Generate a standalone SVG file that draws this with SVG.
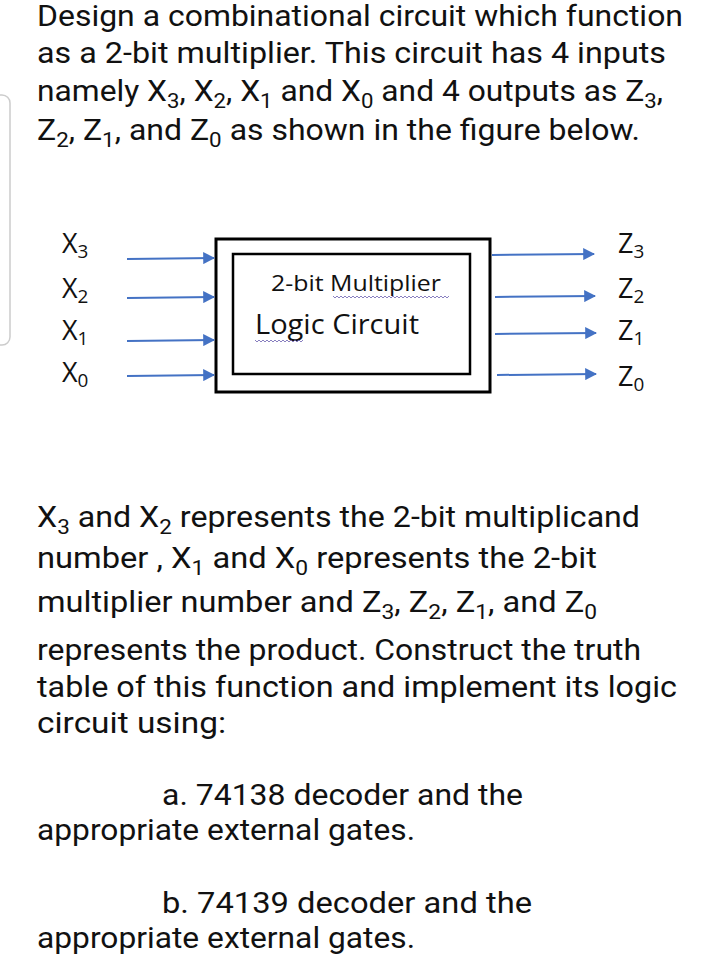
<svg xmlns="http://www.w3.org/2000/svg" width="720" height="962" viewBox="0 0 720 962">
<style>
.t{font-family:Roboto,"Liberation Sans",sans-serif;font-size:29px;fill:#111}
.l{font-family:"Open Sans","Liberation Sans",sans-serif;font-size:27px;fill:#111}
.lc{font-family:"Open Sans","Liberation Sans",sans-serif;font-size:28px;fill:#111}
.b{font-family:"Open Sans","Liberation Sans",sans-serif;font-size:22px;fill:#111}
.c{stroke:#4472c4;stroke-width:2;fill:none;marker-end:url(#a)}
.s{font-size:0.7em}
</style>
<defs><marker id="a" viewBox="0 0 10 10" refX="9" refY="5" markerWidth="6" markerHeight="6" orient="auto" markerUnits="strokeWidth"><path d="M0,0L10,5L0,10z" fill="#4472c4"/></marker></defs>
<rect width="720" height="962" fill="#fff"/>
<path d="M-5,95H2a8,8 0 0 1 8,8V337a8,8 0 0 1-8,8H-5" fill="none" stroke="#ccc" stroke-width="1.5"/>
<g class="t">
<text x="37" y="26" textLength="646" lengthAdjust="spacingAndGlyphs">Design a combinational circuit which function</text>
<text x="37" y="63" textLength="629" lengthAdjust="spacingAndGlyphs">as a  2-bit multiplier. This circuit has 4 inputs</text>
<text x="37" y="101" textLength="626" lengthAdjust="spacingAndGlyphs">namely X<tspan class="s" dy="7">3</tspan><tspan dy="-7">, X</tspan><tspan class="s" dy="7">2</tspan><tspan dy="-7">, X</tspan><tspan class="s" dy="7">1</tspan><tspan dy="-7"> and X</tspan><tspan class="s" dy="7">0</tspan><tspan dy="-7"> and 4 outputs as Z</tspan><tspan class="s" dy="7">3</tspan><tspan dy="-7">,</tspan></text>
<text x="37" y="140" textLength="603" lengthAdjust="spacingAndGlyphs">Z<tspan class="s" dy="7">2</tspan><tspan dy="-7">, Z</tspan><tspan class="s" dy="7">1</tspan><tspan dy="-7">, and Z</tspan><tspan class="s" dy="7">0</tspan><tspan dy="-7"> as shown in the figure below.</tspan></text>
</g>
<g id="block">
<rect x="216" y="239" width="274" height="153" fill="none" stroke="#000" stroke-width="3"/>
<rect x="233" y="254" width="237" height="120" fill="none" stroke="#000" stroke-width="2.5"/>
<text class="b" x="271" y="291" textLength="170" lengthAdjust="spacingAndGlyphs">2-bit Multiplier</text>
<text class="lc" x="255" y="334" textLength="164" lengthAdjust="spacingAndGlyphs">Logic Circuit</text>
<path d="M333,296 l2,2 2,-2 2,2 2,-2 2,2 2,-2 2,2 2,-2 2,2 2,-2 2,2 2,-2 2,2 2,-2 2,2 2,-2 2,2 2,-2 2,2 2,-2 2,2 2,-2 2,2 2,-2 2,2 2,-2 2,2 2,-2 2,2 2,-2 2,2 2,-2 2,2 2,-2 2,2 2,-2 2,2 2,-2 2,2 2,-2 2,2 2,-2 2,2 2,-2 2,2 2,-2 2,2 2,-2 2,2 2,-2 2,2 2,-2 2,2 2,-2 2,2 2,-2 2,2 2,-2" fill="none" stroke="#6b5fb0" stroke-width="0.8"/>
<path d="M255,340 l2,2 2,-2 2,2 2,-2 2,2 2,-2 2,2 2,-2 2,2 2,-2 2,2 2,-2 2,2 2,-2 2,2 2,-2 2,2 2,-2 2,2 2,-2 2,2 2,-2 2,2 2,-2" fill="none" stroke="#6b5fb0" stroke-width="0.8"/>
</g>
<g id="inputs" class="l">
<text x="62" y="253">X<tspan class="s" dy="5">3</tspan></text>
<text x="62" y="298">X<tspan class="s" dy="5">2</tspan></text>
<text x="62" y="340">X<tspan class="s" dy="5">1</tspan></text>
<text x="62" y="382">X<tspan class="s" dy="5">0</tspan></text>
</g>
<g id="outputs" class="l">
<text x="618" y="253">Z<tspan class="s" dy="5">3</tspan></text>
<text x="618" y="298">Z<tspan class="s" dy="5">2</tspan></text>
<text x="618" y="340">Z<tspan class="s" dy="5">1</tspan></text>
<text x="618" y="386">Z<tspan class="s" dy="5">0</tspan></text>
</g>
<g id="connectors">
<path class="c" d="M127,259L214,258"/>
<path class="c" d="M127,298L214,297"/>
<path class="c" d="M127,341L214,340"/>
<path class="c" d="M127,376L214,375"/>
<path class="c" d="M492,255L594,254"/>
<path class="c" d="M495,297L595,296"/>
<path class="c" d="M495,334L596,333"/>
<path class="c" d="M497,375L596,374"/>
</g>
<g class="t">
<text x="37" y="527" textLength="603" lengthAdjust="spacingAndGlyphs">X<tspan class="s" dy="7">3</tspan><tspan dy="-7"> and X</tspan><tspan class="s" dy="7">2</tspan><tspan dy="-7"> represents the 2-bit multiplicand</tspan></text>
<text x="37" y="568" textLength="560" lengthAdjust="spacingAndGlyphs">number ,  X<tspan class="s" dy="7">1</tspan><tspan dy="-7"> and X</tspan><tspan class="s" dy="7">0</tspan><tspan dy="-7"> represents the 2-bit</tspan></text>
<text x="37" y="612" textLength="560" lengthAdjust="spacingAndGlyphs">multiplier number and  Z<tspan class="s" dy="7">3</tspan><tspan dy="-7">, Z</tspan><tspan class="s" dy="7">2</tspan><tspan dy="-7">, Z</tspan><tspan class="s" dy="7">1</tspan><tspan dy="-7">, and Z</tspan><tspan class="s" dy="7">0</tspan></text>
<text x="37" y="660" textLength="604" lengthAdjust="spacingAndGlyphs">represents the product. Construct the truth</text>
<text x="37" y="697" textLength="640" lengthAdjust="spacingAndGlyphs">table of this function and  implement its logic</text>
<text x="37" y="733" textLength="189" lengthAdjust="spacingAndGlyphs">circuit  using:</text>
<text x="162" y="805" textLength="361" lengthAdjust="spacingAndGlyphs">a. 74138 decoder and the</text>
<text x="37" y="840" textLength="378" lengthAdjust="spacingAndGlyphs">appropriate external gates.</text>
<text x="162" y="913" textLength="370" lengthAdjust="spacingAndGlyphs">b. 74139 decoder and the</text>
<text x="37" y="948" textLength="378" lengthAdjust="spacingAndGlyphs">appropriate external gates.</text>
</g>
</svg>
